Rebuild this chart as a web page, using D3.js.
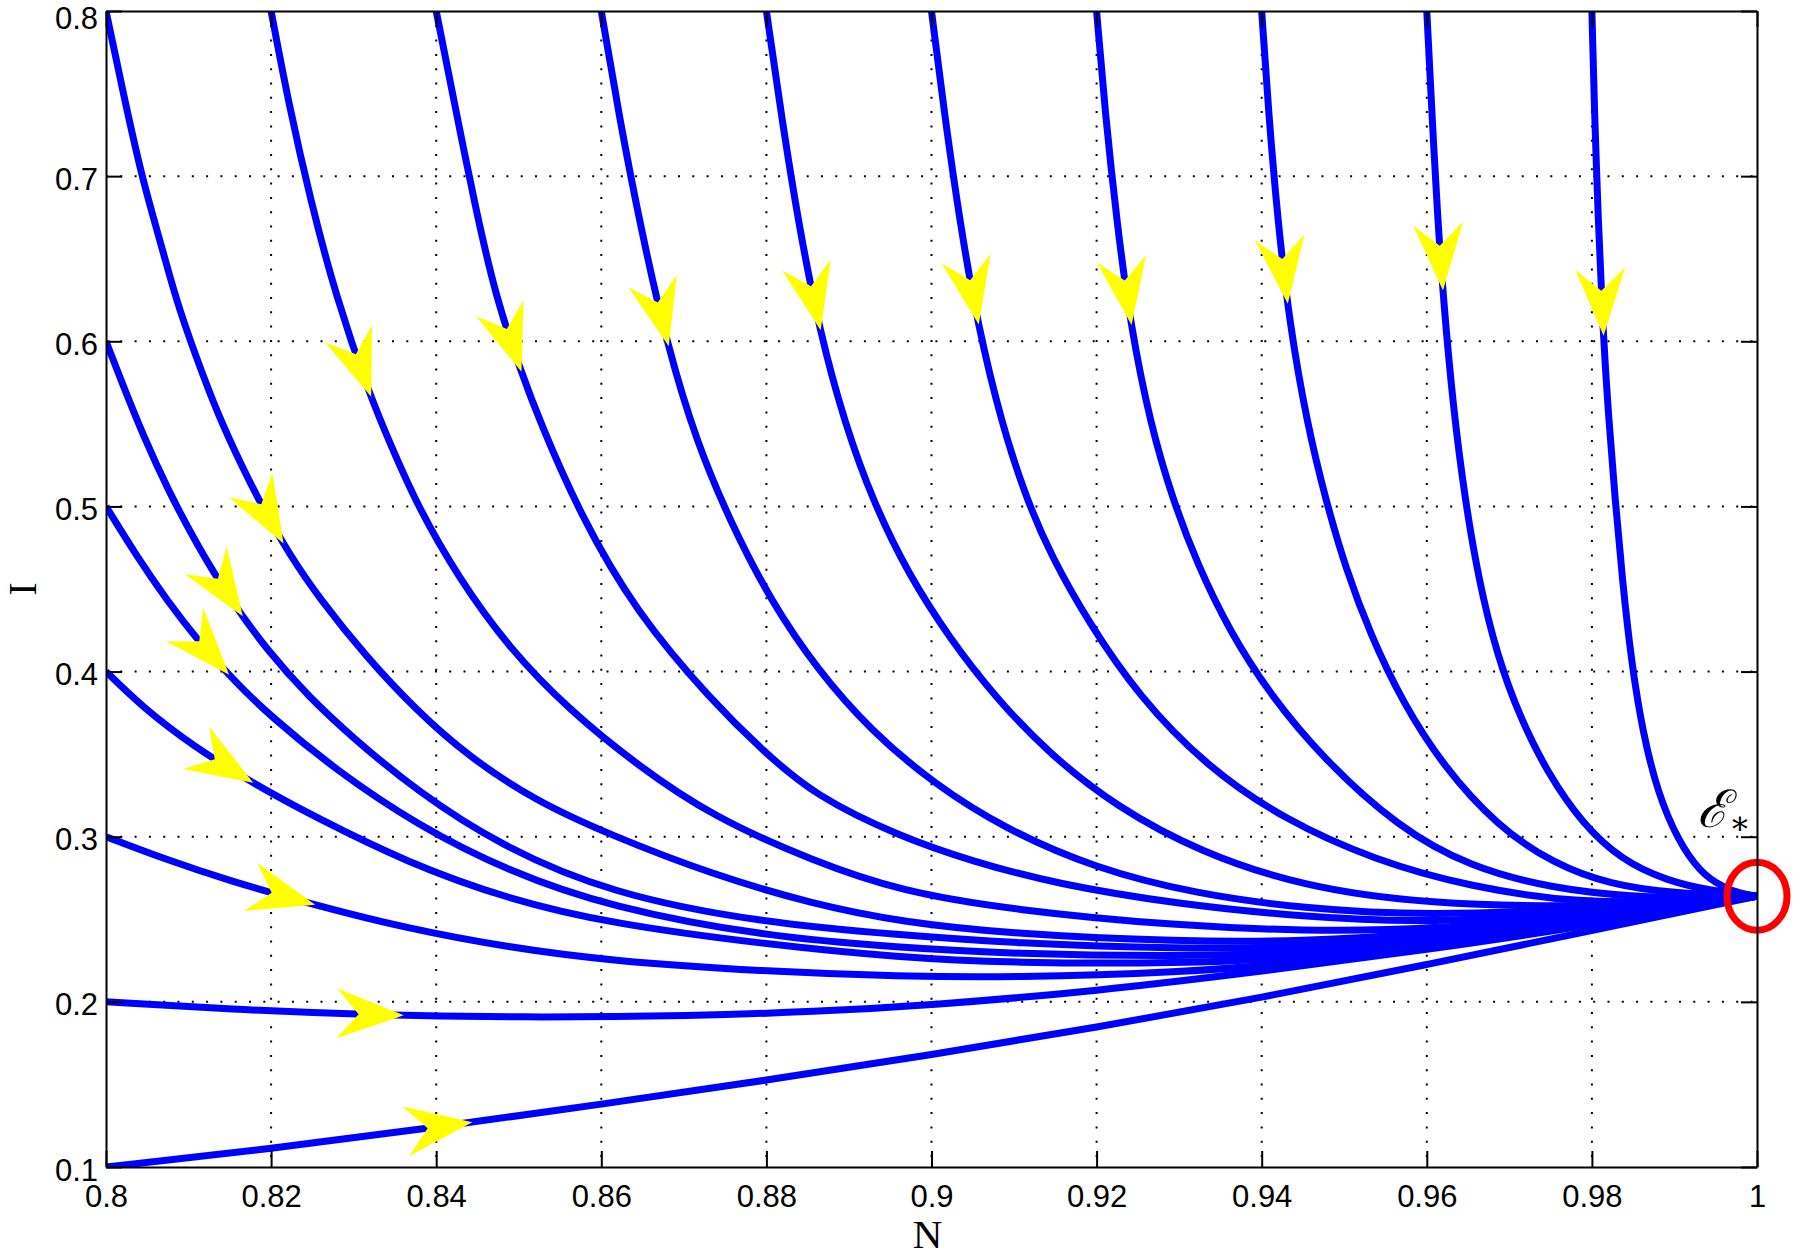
<!DOCTYPE html>
<html>
<head>
<meta charset="utf-8">
<script src="https://cdn.jsdelivr.net/npm/d3@7"></script>
<style>
  body { margin: 0; background: #fff; }
</style>
</head>
<body>
<div id="chart"></div>
<script>
// axis ticks
const xTicks = [0.8, 0.82, 0.84, 0.86, 0.88, 0.9, 0.92, 0.94, 0.96, 0.98, 1];
const yTicks = [0.1, 0.2, 0.3, 0.4, 0.5, 0.6, 0.7, 0.8];
const xTickLabels = ["0.8", "0.82", "0.84", "0.86", "0.88", "0.9", "0.92", "0.94", "0.96", "0.98", "1"];
const yTickLabels = ["0.1", "0.2", "0.3", "0.4", "0.5", "0.6", "0.7", "0.8"];

// trajectories, [N, I] pairs
// starting on the left edge (N = 0.8)
const trajL01 = [[0.80,0.100],[0.82,0.111],[0.84,0.124],[0.86,0.138],[0.88,0.1525],[0.90,0.168],[0.92,0.1845],[0.94,0.2025],[0.96,0.2225],[0.98,0.2432],[0.99,0.2536],[1.00,0.264]];
const trajL02 = [[0.80,0.200],[0.815,0.1955],[0.832,0.192],[0.850,0.1905],[0.8715,0.1915],[0.8856,0.194],[0.90,0.198],[0.92,0.2065],[0.94,0.2185],[0.96,0.2315],[0.98,0.2465],[0.99,0.2555],[1.00,0.264]];
const trajL03 = [[0.80,0.300],[0.8068,0.287],[0.8148,0.2735],[0.8253,0.2586],[0.8364,0.2445],[0.8488,0.2329],[0.8611,0.2248],[0.8796,0.2185],[0.8962,0.2155],[0.91,0.2148],[0.93,0.2178],[0.945,0.2235],[0.96,0.2335],[0.98,0.248],[0.99,0.2558],[1.00,0.264]];
const trajL04 = [[0.80,0.400],[0.8043,0.379],[0.8105,0.355],[0.8179,0.332],[0.8253,0.312],[0.8364,0.2845],[0.8488,0.262],[0.8611,0.2475],[0.8796,0.235],[0.8962,0.2268],[0.91,0.2235],[0.93,0.2232],[0.945,0.2265],[0.96,0.2355],[0.98,0.249],[0.99,0.2563],[1.00,0.264]];
const trajL05 = [[0.80,0.500],[0.8037,0.470],[0.8074,0.443],[0.8111,0.419],[0.8154,0.395],[0.8198,0.3735],[0.8278,0.3405],[0.8377,0.307],[0.8488,0.2789],[0.8611,0.2573],[0.8796,0.2397],[0.8962,0.2329],[0.91,0.229],[0.93,0.2275],[0.945,0.2295],[0.96,0.2372],[0.98,0.250],[0.99,0.2568],[1.00,0.264]];
const trajL06 = [[0.80,0.600],[0.802,0.574],[0.8045,0.543],[0.8075,0.510],[0.811,0.477],[0.815,0.444],[0.8195,0.413],[0.8245,0.385],[0.8302,0.3585],[0.8377,0.3276],[0.8475,0.2952],[0.8611,0.2654],[0.8796,0.2478],[0.8962,0.2405],[0.91,0.2355],[0.93,0.232],[0.945,0.233],[0.96,0.239],[0.98,0.251],[0.99,0.2573],[1.00,0.264]];
const trajL08 = [[0.80,0.800],[0.8021,0.750],[0.8043,0.700],[0.8066,0.660],[0.8085,0.625],[0.8108,0.592],[0.8136,0.555],[0.8164,0.525],[0.8188,0.501],[0.8222,0.471],[0.8259,0.444],[0.8315,0.409],[0.8377,0.376],[0.8438,0.349],[0.8519,0.322],[0.8611,0.301],[0.8735,0.277],[0.8858,0.259],[0.8962,0.2485],[0.91,0.241],[0.93,0.2365],[0.945,0.2365],[0.96,0.241],[0.98,0.252],[0.99,0.2578],[1.00,0.264]];
// starting on the top edge (I = 0.8)
const trajT082 = [[0.82,0.800],[0.8222,0.742],[0.8248,0.685],[0.8278,0.628],[0.8318,0.5692],[0.8346,0.5359],[0.8377,0.5007],[0.8426,0.4575],[0.8488,0.4142],[0.8562,0.3763],[0.8642,0.3439],[0.8735,0.312],[0.8858,0.285],[0.8962,0.267],[0.91,0.2555],[0.93,0.246],[0.945,0.243],[0.96,0.2435],[0.98,0.253],[0.99,0.2583],[1.00,0.264]];
const trajT084 = [[0.84,0.800],[0.8423,0.742],[0.8447,0.682],[0.8473,0.625],[0.8503,0.5815],[0.8525,0.5521],[0.8574,0.4953],[0.8642,0.4358],[0.8735,0.3817],[0.8796,0.352],[0.8858,0.325],[0.8962,0.300],[0.905,0.285],[0.915,0.2715],[0.93,0.259],[0.945,0.2515],[0.96,0.2475],[0.98,0.2545],[0.99,0.259],[1.00,0.264]];
const trajT086 = [[0.86,0.800],[0.8622,0.735],[0.8648,0.668],[0.8680,0.597],[0.8716,0.538],[0.8757,0.490],[0.8805,0.443],[0.8862,0.401],[0.8927,0.364],[0.9003,0.332],[0.9088,0.305],[0.9197,0.281],[0.9319,0.2655],[0.945,0.2565],[0.96,0.252],[0.98,0.2565],[0.99,0.260],[1.00,0.264]];
const trajT088 = [[0.88,0.800],[0.8818,0.737],[0.8840,0.668],[0.8865,0.605],[0.8895,0.550],[0.8930,0.502],[0.8972,0.459],[0.9022,0.420],[0.9078,0.384],[0.9143,0.350],[0.9224,0.318],[0.9326,0.2905],[0.9448,0.2700],[0.96,0.2590],[0.98,0.2575],[0.99,0.2605],[1.00,0.264]];
const trajT090 = [[0.90,0.800],[0.9015,0.740],[0.9035,0.670],[0.9056,0.610],[0.9085,0.550],[0.9115,0.5045],[0.9145,0.470],[0.919,0.430],[0.9251,0.385],[0.9333,0.3425],[0.9428,0.3101],[0.9537,0.2858],[0.9652,0.2696],[0.9788,0.2595],[0.99,0.2612],[1.00,0.264]];
const trajT092 = [[0.92,0.800],[0.921,0.740],[0.9225,0.670],[0.9241,0.610],[0.9265,0.550],[0.9292,0.5045],[0.9322,0.465],[0.9360,0.4255],[0.9410,0.386],[0.9475,0.347],[0.9564,0.3061],[0.9652,0.2815],[0.9754,0.2685],[0.985,0.2635],[0.993,0.2632],[1.00,0.264]];
const trajT094 = [[0.94,0.800],[0.9408,0.740],[0.942,0.670],[0.9434,0.610],[0.9455,0.550],[0.9478,0.503],[0.9502,0.462],[0.9532,0.422],[0.9570,0.382],[0.9620,0.3425],[0.9686,0.3061],[0.9754,0.2835],[0.9822,0.271],[0.99,0.2655],[1.00,0.264]];
const trajT096 = [[0.96,0.800],[0.9606,0.740],[0.9613,0.675],[0.9621,0.620],[0.9632,0.560],[0.9646,0.505],[0.9663,0.455],[0.9685,0.410],[0.9713,0.372],[0.9747,0.338],[0.9788,0.3081],[0.9836,0.2858],[0.989,0.2735],[0.9944,0.2672],[1.00,0.264]];
const trajT098 = [[0.98,0.800],[0.9803,0.740],[0.9808,0.670],[0.9813,0.610],[0.9820,0.555],[0.9828,0.505],[0.9837,0.455],[0.9848,0.405],[0.9862,0.362],[0.988,0.3263],[0.9904,0.298],[0.9931,0.2785],[0.9958,0.2695],[0.998,0.2655],[1.00,0.264]];

const trajectories = [trajL01, trajL02, trajL03, trajL04, trajL05, trajL06, trajL08,
  trajT082, trajT084, trajT086, trajT088, trajT090, trajT092, trajT094, trajT096, trajT098];

// arrow tips [N, I], same order as trajectories
const arrowTips = [[0.8444,0.126],[0.8361,0.191],[0.8253,0.2586],[0.8179,0.333],[0.8154,0.4007],[0.8173,0.4358],[0.8207,0.475],
  [0.8322,0.5664],[0.8503,0.5815],[0.868,0.597],[0.8863,0.6065],[0.9056,0.610],[0.9241,0.610],[0.9434,0.6227],[0.9621,0.631],[0.9811,0.603]];

// equilibrium point E*
const equilibrium = [1.0, 0.264];
const eqLabel = "\u2130";
const eqSub = "\u2217";

const W = 1820, H = 1258;
const margin = {top: 11, right: 63, bottom: 91, left: 106};
const width = W - margin.left - margin.right;
const height = H - margin.top - margin.bottom;

const svg = d3.select("#chart").append("svg")
    .attr("width", W)
    .attr("height", H);

const chart = svg.append("g")
    .attr("transform", `translate(${margin.left},${margin.top})`);

const xScale = d3.scaleLinear().domain([0.8, 1]).range([0, width]);
const yScale = d3.scaleLinear().domain([0.1, 0.8]).range([height, 0]);

svg.append("defs").append("clipPath").attr("id", "clip")
  .append("rect").attr("width", width).attr("height", height);

// dotted grid
const grid = chart.append("g").attr("class", "grid");
grid.selectAll(".gx").data(xTicks.slice(1, -1)).enter().append("line")
    .attr("x1", d => xScale(d)).attr("x2", d => xScale(d))
    .attr("y1", 0).attr("y2", height);
grid.selectAll(".gy").data(yTicks.slice(1, -1)).enter().append("line")
    .attr("y1", d => yScale(d)).attr("y2", d => yScale(d))
    .attr("x1", 0).attr("x2", width);
grid.selectAll("line")
    .attr("stroke", "#000")
    .attr("stroke-width", 2)
    .attr("stroke-dasharray", "2,12.3");

// trajectories (B-spline through the read points, smooths reading noise)
const line = d3.line()
    .x(d => xScale(d[0]))
    .y(d => yScale(d[1]))
    .curve(d3.curveBasis);

const curves = chart.append("g").attr("clip-path", "url(#clip)");
const paths = curves.selectAll(".traj")
    .data(trajectories)
    .enter().append("path")
    .attr("class", "traj")
    .attr("d", line)
    .attr("fill", "none")
    .attr("stroke", "#0000ff")
    .attr("stroke-width", 7)
    .attr("stroke-linejoin", "round");

// yellow arrowheads, sitting on each trajectory
const arrowShape = [[0, 0], [-67, -25], [-45, 0], [-67, 25]];
const arrows = chart.append("g");
paths.each(function(d, i) {
    const node = this;
    const total = node.getTotalLength();
    const tx = xScale(arrowTips[i][0]), ty = yScale(arrowTips[i][1]);
    let best = 0, bestDist = Infinity;
    for (let s = 0; s <= total; s += 1) {
        const p = node.getPointAtLength(s);
        const dd = (p.x - tx) ** 2 + (p.y - ty) ** 2;
        if (dd < bestDist) { bestDist = dd; best = s; }
    }
    const tip = node.getPointAtLength(best);
    const back = node.getPointAtLength(Math.max(0, best - 45));
    const ang = Math.atan2(tip.y - back.y, tip.x - back.x) * 180 / Math.PI;
    arrows.append("polygon")
        .attr("points", arrowShape.map(p => p.join(",")).join(" "))
        .attr("transform", `translate(${tip.x},${tip.y}) rotate(${ang})`)
        .attr("fill", "#ffff00");
});

// red ring at the equilibrium
chart.append("ellipse")
    .attr("cx", xScale(equilibrium[0]))
    .attr("cy", yScale(equilibrium[1]))
    .attr("rx", 30)
    .attr("ry", 34)
    .attr("fill", "none")
    .attr("stroke", "#ff0000")
    .attr("stroke-width", 7);

const eqText = chart.append("text")
    .attr("x", xScale(equilibrium[0]) - 60)
    .attr("y", yScale(equilibrium[1]) - 69)
    .attr("font-family", "DejaVu Serif, serif")
    .attr("font-style", "italic")
    .attr("font-size", 52)
    .text(eqLabel);
eqText.append("tspan")
    .attr("dx", 1)
    .attr("dy", 7)
    .attr("font-size", 32)
    .attr("font-style", "normal")
    .text(eqSub);

// axes, ticks pointing inward on all four sides
const fontTick = "Liberation Sans, Arial, sans-serif";
const xAxis = d3.axisBottom(xScale).tickValues(xTicks)
    .tickFormat((d, i) => xTickLabels[i]).tickSizeInner(-16).tickSizeOuter(0).tickPadding(18);
const yAxis = d3.axisLeft(yScale).tickValues(yTicks)
    .tickFormat((d, i) => yTickLabels[i]).tickSizeInner(-16).tickSizeOuter(0).tickPadding(8);
const xTop = d3.axisTop(xScale).tickValues(xTicks).tickFormat("").tickSizeInner(-16).tickSizeOuter(0);
const yRight = d3.axisRight(yScale).tickValues(yTicks).tickFormat("").tickSizeInner(-16).tickSizeOuter(0);

chart.append("g").attr("class", "x axis")
    .attr("transform", `translate(0,${height})`).call(xAxis);
chart.append("g").attr("class", "y axis").call(yAxis);
chart.append("g").attr("class", "x axis top").call(xTop);
chart.append("g").attr("class", "y axis right")
    .attr("transform", `translate(${width},0)`).call(yRight);

chart.selectAll(".axis path, .axis line")
    .attr("stroke", "#000")
    .attr("stroke-width", 2);
chart.selectAll(".axis text")
    .attr("fill", "#000")
    .attr("font-family", fontTick)
    .attr("font-size", 31);
chart.selectAll(".y.axis text").attr("dy", "0.42em");
// keep the top label inside the page
chart.selectAll(".y.axis .tick").filter(d => d === 0.8).select("text").attr("dy", "0.55em");

// axis titles
svg.append("text")
    .attr("x", margin.left + xScale(0.9) - 4)
    .attr("y", 1248)
    .attr("text-anchor", "middle")
    .attr("font-family", "Liberation Serif, Times New Roman, serif")
    .attr("font-size", 41)
    .text("N");

svg.append("text")
    .attr("transform", `translate(36,${margin.top + height / 2}) rotate(-90)`)
    .attr("text-anchor", "middle")
    .attr("font-family", "Liberation Serif, Times New Roman, serif")
    .attr("font-size", 40)
    .text("I");
</script>
</body>
</html>
